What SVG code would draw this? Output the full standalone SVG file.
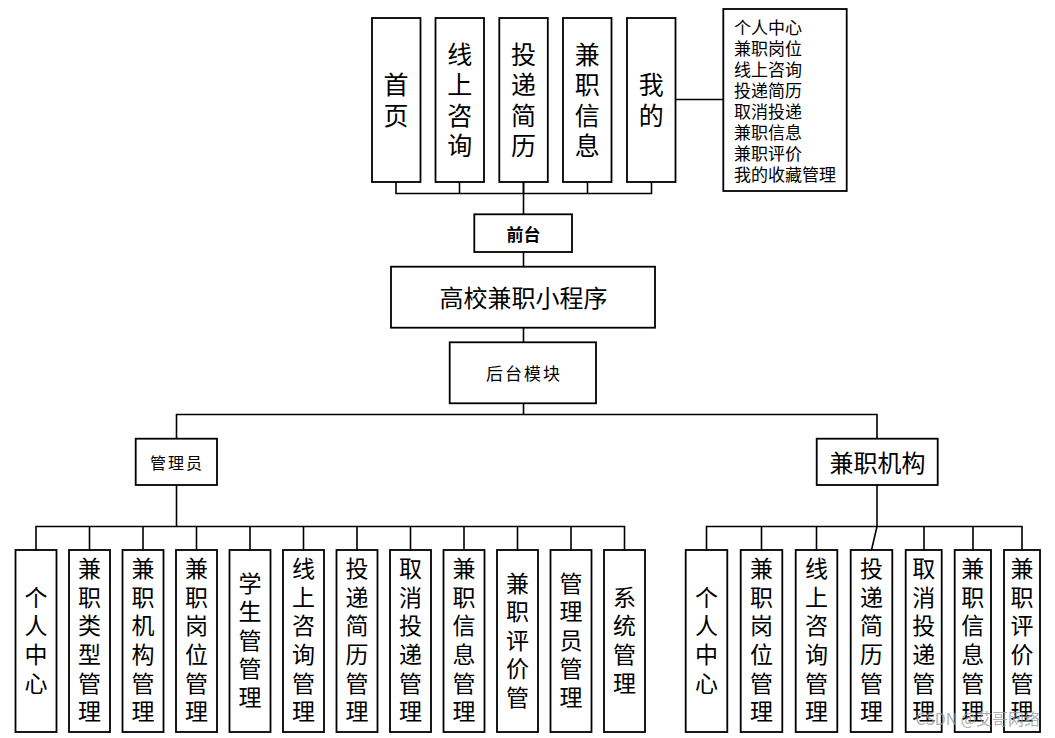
<svg xmlns="http://www.w3.org/2000/svg" width="1055" height="738" viewBox="0 0 1055 738">
<style>
.box{fill:#fff;stroke:#000;stroke-width:1.8}
.ln{fill:none;stroke:#000;stroke-width:1.6}
.t{font-family:"Noto Sans CJK SC","Noto Sans",sans-serif;fill:#000;text-anchor:middle;dominant-baseline:central}
.vt{writing-mode:vertical-rl;font-family:"Noto Sans CJK SC","Noto Sans",sans-serif;fill:#000;text-anchor:middle}
.v{font-size:23px;letter-spacing:5.6px}
.tv{font-size:25px;letter-spacing:5.5px}
.lst{font-family:"Liberation Sans","Noto Sans CJK SC",sans-serif;font-size:17px;fill:#000}
</style>
<rect width="1055" height="738" fill="#fff"/>
<g id="connectors">
<path class="ln" d="M396 182V193.5H651.5V182M459.5 182V193.5M523.5 182V193.5M587.5 182V193.5"/>
<path class="ln" d="M523.5 182V214" stroke-width="2.4"/>
<path class="ln" d="M676 99.5H723"/>
<path class="ln" d="M523.5 252V267M523.5 328V342M523.5 403V414.5"/>
<path class="ln" d="M176.5 439V414.5H877V439"/>
<path class="ln" d="M176.5 485V526.5" stroke-width="3"/>
<path class="ln" d="M36 550V526.5H624.5V550M89.5 526.5V550M143 526.5V550M196.5 526.5V550M250 526.5V550M303.5 526.5V550M357 526.5V550M410.5 526.5V550M464 526.5V550M517.5 526.5V550M571 526.5V550"/>
<path class="ln" d="M877 485V526.5" stroke-width="2.2"/>
<path class="ln" d="M706.5 550V526.5H1022V550M761.5 526.5V550M816.5 526.5V550M877 526.5L871.5 550M924 526.5V550M973 526.5V550"/>
</g>
<g id="n-shouye"><rect class="box" x="372" y="18" width="48.5" height="164"/><text class="vt tv" x="396" y="102.75">首页</text></g>
<g id="n-xianshang"><rect class="box" x="435.5" y="18" width="48.5" height="164"/><text class="vt tv" x="459.7" y="102.75">线上咨询</text></g>
<g id="n-toudi"><rect class="box" x="499.3" y="18" width="48.5" height="164"/><text class="vt tv" x="523.5" y="102.75">投递简历</text></g>
<g id="n-jianzhi"><rect class="box" x="563" y="18" width="48.5" height="164"/><text class="vt tv" x="587.3" y="102.75">兼职信息</text></g>
<g id="n-wode"><rect class="box" x="627" y="18" width="48.5" height="164"/><text class="vt tv" x="651.3" y="102.75">我的</text></g>
<g id="n-wode-list"><rect class="box" x="723.3" y="9" width="123.4" height="182"/><text class="lst"><tspan x="734" y="34">个人中心</tspan><tspan x="734" y="55">兼职岗位</tspan><tspan x="734" y="76">线上咨询</tspan><tspan x="734" y="97">投递简历</tspan><tspan x="734" y="118">取消投递</tspan><tspan x="734" y="139">兼职信息</tspan><tspan x="734" y="160">兼职评价</tspan><tspan x="734" y="181">我的收藏管理</tspan></text></g>
<g id="n-qiantai"><rect class="box" x="474.3" y="214.3" width="97.7" height="37.7"/><text class="t" x="523.5" y="233" font-size="17" font-weight="bold">前台</text></g>
<g id="n-root"><rect class="box" x="391" y="266.7" width="264" height="61"/><text class="t" x="523.5" y="296.5" font-size="24">高校兼职小程序</text></g>
<g id="n-houtai"><rect class="box" x="449.7" y="342.3" width="146.3" height="61"/><text class="t" x="524" y="372.5" font-size="17" letter-spacing="2">后台模块</text></g>
<g id="n-admin"><rect class="box" x="135.7" y="438.7" width="81.3" height="46.3"/><text class="t" x="177" y="462" font-size="16" letter-spacing="2">管理员</text></g>
<g id="n-org"><rect class="box" x="816.7" y="438.7" width="121" height="46.3"/><text class="t" x="877.5" y="461.7" font-size="24">兼职机构</text></g>
<g id="a1"><rect class="box" x="15.5" y="550" width="41" height="182"/><text class="vt v" x="36" y="642.8">个人中心</text></g>
<g id="a2"><rect class="box" x="69" y="550" width="41" height="182"/><text class="vt v" x="89.5" y="642.8">兼职类型管理</text></g>
<g id="a3"><rect class="box" x="122.5" y="550" width="41" height="182"/><text class="vt v" x="143" y="642.8">兼职机构管理</text></g>
<g id="a4"><rect class="box" x="176" y="550" width="41" height="182"/><text class="vt v" x="196.5" y="642.8">兼职岗位管理</text></g>
<g id="a5"><rect class="box" x="229.5" y="550" width="41" height="182"/><text class="vt v" x="250" y="642.8">学生管管理</text></g>
<g id="a6"><rect class="box" x="283" y="550" width="41" height="182"/><text class="vt v" x="303.5" y="642.8">线上咨询管理</text></g>
<g id="a7"><rect class="box" x="336.5" y="550" width="41" height="182"/><text class="vt v" x="357" y="642.8">投递简历管理</text></g>
<g id="a8"><rect class="box" x="390" y="550" width="41" height="182"/><text class="vt v" x="410.5" y="642.8">取消投递管理</text></g>
<g id="a9"><rect class="box" x="443.5" y="550" width="41" height="182"/><text class="vt v" x="464" y="642.8">兼职信息管理</text></g>
<g id="a10"><rect class="box" x="497" y="550" width="41" height="182"/><text class="vt v" x="517.5" y="642.8">兼职评价管</text></g>
<g id="a11"><rect class="box" x="550.5" y="550" width="41" height="182"/><text class="vt v" x="571" y="642.8">管理员管理</text></g>
<g id="a12"><rect class="box" x="604" y="550" width="41" height="182"/><text class="vt v" x="624.5" y="642.8">系统管理</text></g>
<g id="b1"><rect class="box" x="685.7" y="550" width="41.6" height="182"/><text class="vt v" x="706.5" y="642.8">个人中心</text></g>
<g id="b2"><rect class="box" x="740.7" y="550" width="41.6" height="182"/><text class="vt v" x="761.5" y="642.8">兼职岗位管理</text></g>
<g id="b3"><rect class="box" x="795.7" y="550" width="41.6" height="182"/><text class="vt v" x="816.5" y="642.8">线上咨询管理</text></g>
<g id="b4"><rect class="box" x="850.7" y="550" width="41.6" height="182"/><text class="vt v" x="871.5" y="642.8">投递简历管理</text></g>
<g id="b5"><rect class="box" x="905.7" y="550" width="36" height="182"/><text class="vt v" x="923.7" y="642.8">取消投递管理</text></g>
<g id="b6"><rect class="box" x="954.7" y="550" width="36.3" height="182"/><text class="vt v" x="972.8" y="642.8">兼职信息管理</text></g>
<g id="b7"><rect class="box" x="1004" y="550" width="36" height="182"/><text class="vt v" x="1022" y="642.8">兼职评价管理</text></g>
<text x="1040" y="725" font-family="'Noto Sans CJK SC','Noto Sans',sans-serif" font-size="16" fill="#9a9a9a" fill-opacity="0.8" text-anchor="end">CSDN @艾哥网络</text>
</svg>
